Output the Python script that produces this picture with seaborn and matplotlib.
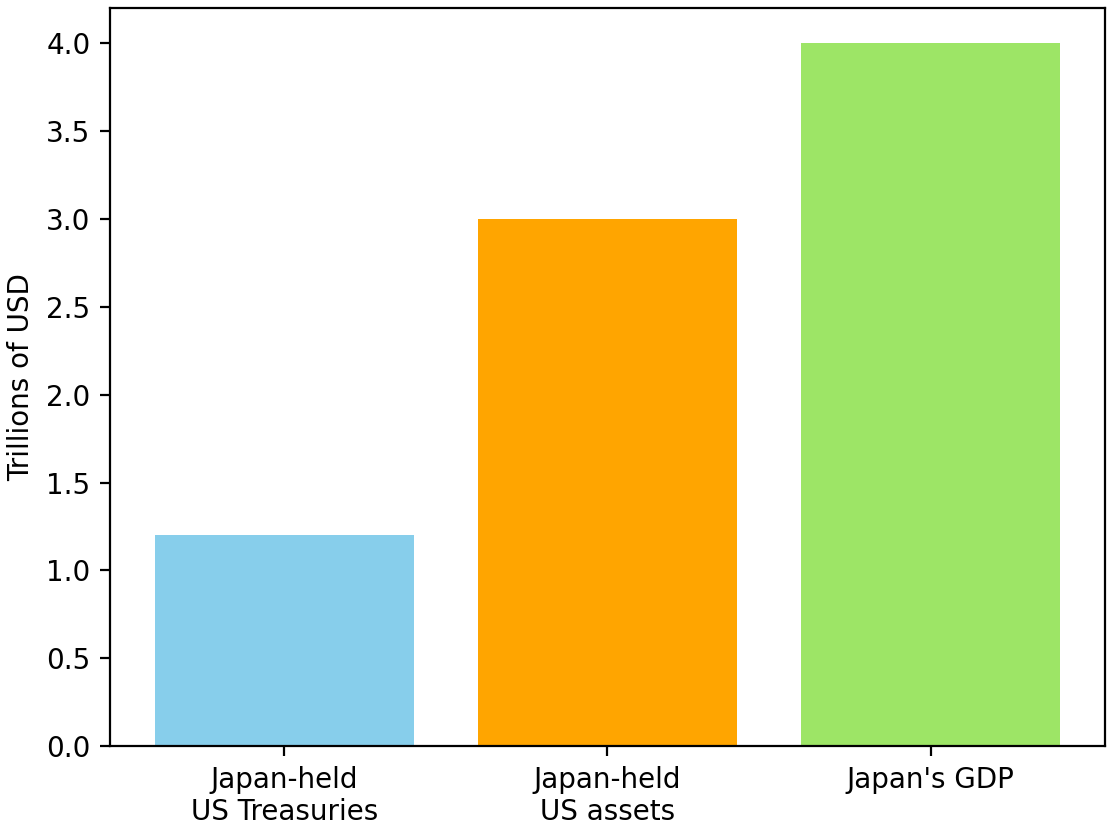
import matplotlib
matplotlib.use("Agg")
import matplotlib.pyplot as plt
import pandas as pd
import seaborn as sns

categories = ["Japan-held\nUS Treasuries", "Japan-held\nUS assets", "Japan's GDP"]
values = [1.2, 3.0, 4.0]
colors = ["#87ceeb", "#ffa500", "#9de566"]

df = pd.DataFrame({"category": categories, "value": values})

fig, ax = plt.subplots(figsize=(5.55, 4.15), dpi=200)
fig.subplots_adjust(left=0.099, right=0.9955, top=0.990, bottom=0.101)

sns.barplot(data=df, x="category", y="value", hue="category",
            palette=colors, legend=False, saturation=1, width=0.8, ax=ax)

ax.set_xlim(-0.54, 2.54)
ax.set_ylim(0, 4.2)
ax.set_xlabel("")
ax.set_ylabel("Trillions of USD")

fig.savefig("out.png", dpi=200)
